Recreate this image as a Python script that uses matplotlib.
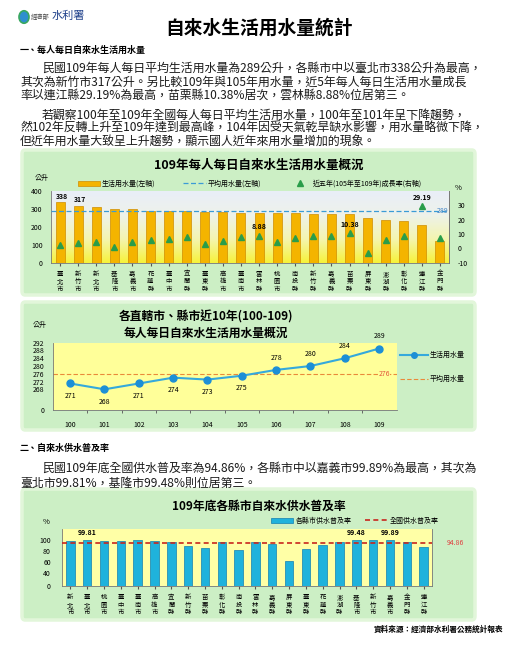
import matplotlib
matplotlib.use('Agg')
import matplotlib.pyplot as plt
from matplotlib.patches import FancyBboxPatch, Rectangle, Circle
from matplotlib.lines import Line2D
from matplotlib.colors import LinearSegmentedColormap
import numpy as np

plt.rcParams['font.family'] = ['Noto Sans CJK TC', 'DejaVu Sans']
plt.rcParams['axes.unicode_minus'] = False

W, H = 519, 647

# 109年每人每日生活用水量 (公升) 與近五年成長率 (%)
usage_cities = ['臺北市', '新竹市', '新北市', '基隆市', '嘉義市', '花蓮縣', '臺中市', '宜蘭縣',
                '臺東縣', '高雄市', '臺南市', '雲林縣', '桃園市', '南投縣', '新竹縣', '嘉義縣',
                '苗栗縣', '屏東縣', '澎湖縣', '彰化縣', '連江縣', '金門縣']
usage_2020 = [338, 317, 310, 298, 297, 290, 290, 285, 282, 280, 278, 277,
              276, 275, 272, 270, 268, 248, 240, 230, 212, 118]
growth_5yr = [2.3, 3.4, 4.3, 0.6, 4.1, 5.5, 6.2, 7.6, 2.7, 5.0, 7.6, 8.88,
              4.6, 6.9, 8.5, 8.5, 10.38, -3.5, 5.5, 8.3, 29.19, 6.9]
usage_avg = 289

# 100-109年 全國每人每日生活用水量
years = [100, 101, 102, 103, 104, 105, 106, 107, 108, 109]
yearly_usage = [271, 268, 271, 274, 273, 275, 278, 280, 284, 289]
yearly_avg = 276
yearly_ticks = [268, 272, 276, 280, 284, 288, 292]

# 109年底各縣市供水普及率 (%)
supply_cities = ['新北市', '臺北市', '桃園市', '臺中市', '臺南市', '高雄市', '宜蘭縣', '新竹縣',
                 '苗栗縣', '彰化縣', '南投縣', '雲林縣', '嘉義縣', '屏東縣', '臺東縣', '花蓮縣',
                 '澎湖縣', '基隆市', '新竹市', '嘉義市', '金門縣', '連江縣']
supply_rate = [97.3, 99.81, 97.2, 96.9, 99.5, 97.9, 96.0, 88.8, 85.2, 95.6, 81.5, 95.4,
               92.6, 60.9, 84.0, 90.0, 95.2, 99.48, 99.5, 99.89, 95.3, 86.4]
supply_avg = 94.86
supply_ticks = [40, 60, 80, 100]


def box(x0, y0, x1, y1):
    """pixel box (top-left origin) -> figure fraction rect"""
    return [x0 / W, 1 - y1 / H, (x1 - x0) / W, (y1 - y0) / H]


def put(x, y, s, **kw):
    kw.setdefault('va', 'center')
    fig.text(x / W, 1 - y / H, s, **kw)


def vertical(names):
    return ['\n'.join(n) for n in names]


fig = plt.figure(figsize=(W / 100, H / 100), dpi=100)
fig.patch.set_facecolor('white')

# logo + title
fig.patches.append(Circle((24 / W, 1 - 17 / H), 5 / W, transform=fig.transFigure,
                          fc='#2f8fcf', ec='#3aa860', lw=1.2))
put(31, 17, '經濟部', fontsize=4.5, color='#444444')
put(52, 16, '水利署', fontsize=8, color='#1d3f8a', style='italic')
put(259, 28, '自來水生活用水量統計', fontsize=13.5, fontweight='bold', ha='center')

# section 1
put(20, 50, '一、每人每日自來水生活用水量', fontsize=6.5, fontweight='bold')
para1 = ['民國109年每人每日平均生活用水量為289公升，各縣市中以臺北市338公升為最高，',
         '其次為新竹市317公升。另比較109年與105年用水量，近5年每人每日生活用水量成長',
         '率以連江縣29.19%為最高，苗栗縣10.38%居次，雲林縣8.88%位居第三。']
para2 = ['若觀察100年至109年全國每人每日平均生活用水量，100年至101年呈下降趨勢，',
         '然102年反轉上升至109年達到最高峰，104年因受天氣乾旱缺水影響，用水量略微下降，',
         '但近年用水量大致呈上升趨勢，顯示國人近年來用水量增加的現象。']
body = dict(fontsize=8.6, color='#1a1a1a')
for i, (line, y) in enumerate(zip(para1, [68, 82, 95])):
    put(42 if i == 0 else 20, y, line, **body)
for i, (line, y) in enumerate(zip(para2, [115, 128, 142])):
    put(42 if i == 0 else 20, y, line, **body)

# section 2
put(20, 448, '二、自來水供水普及率', fontsize=6.5, fontweight='bold')
para3 = ['民國109年底全國供水普及率為94.86%，各縣市中以嘉義市99.89%為最高，其次為',
         '臺北市99.81%，基隆市99.48%則位居第三。']
for i, (line, y) in enumerate(zip(para3, [468, 483])):
    put(42 if i == 0 else 20, y, line, **body)

# green panels
for y0, y1 in [(150, 295), (302, 430), (489, 620)]:
    fig.patches.append(FancyBboxPatch((22 / W, 1 - y1 / H), 453 / W, (y1 - y0) / H,
                                      boxstyle='round,pad=0,rounding_size=0.006',
                                      transform=fig.transFigure, fc='#ccefc5',
                                      ec='#e2f6da', lw=2.5, zorder=-10))

# ---------- chart 1 ----------
x1 = np.arange(len(usage_cities))
ax1 = fig.add_axes(box(51, 190.7, 449, 262.7))
ax1.patch.set_alpha(0)
grad = LinearSegmentedColormap.from_list('g', ['#e9eef8', '#eef2ea', '#f4f5b0', '#f7f23a'])
ax1.imshow(np.linspace(0, 1, 200).reshape(-1, 1), extent=[-0.5, 21.5, 0, 400],
           aspect='auto', cmap=grad, zorder=0)
ax1.bar(x1, usage_2020, width=0.5, color='#f4b400', edgecolor='#cf8d00', lw=0.5, zorder=2)
ax1.axhline(usage_avg, color='#3b9bd6', ls=(0, (4, 2)), lw=0.9, zorder=3)
ax1.set_xlim(-0.5, 21.5)
ax1.set_ylim(0, 400)
ax1.set_yticks([0, 100, 200, 300, 400])
ax1.tick_params(axis='y', labelsize=5, length=0, pad=6)
ax1.set_xticks(x1)
ax1.set_xticklabels(vertical(usage_cities), fontsize=4.6, linespacing=0.95)
ax1.tick_params(axis='x', length=2, pad=3, color='#555555')
ax1.spines['top'].set_visible(False)
for s in ['left', 'right', 'bottom']:
    ax1.spines[s].set_color('#777777')
    ax1.spines[s].set_linewidth(0.6)
for i in [0, 1]:
    ax1.text(x1[i] - 0.25, usage_2020[i] + 12, str(usage_2020[i]), fontsize=5,
             fontweight='bold', ha='left', va='bottom', zorder=4)
ax1.text(21.45, usage_avg, str(usage_avg), fontsize=5, color='#3b7fc4', ha='right',
         va='center', zorder=4)

ax1r = ax1.twinx()
ax1r.plot(x1, growth_5yr, '^', color='#2a9d4a', ms=4.5, zorder=5)
ax1r.set_ylim(-10, 40)
ax1r.set_yticks([-10, 0, 10, 20, 30])
ax1r.tick_params(axis='y', labelsize=5, length=0, pad=6)
for s in ['top', 'left', 'bottom']:
    ax1r.spines[s].set_visible(False)
ax1r.spines['right'].set_color('#777777')
ax1r.spines['right'].set_linewidth(0.6)
for i in [11, 16, 20]:
    ax1r.annotate(f'{growth_5yr[i]:.2f}', (x1[i], growth_5yr[i]), xytext=(0, 4),
                  textcoords='offset points', fontsize=5, fontweight='bold',
                  ha='center', va='bottom')

put(259, 165, '109年每人每日自來水生活用水量概況', fontsize=9, fontweight='bold', ha='center')
put(35, 178, '公升', fontsize=5)
put(455, 188, '%', fontsize=5.5)
h1 = [Rectangle((0, 0), 1, 1, fc='#f4b400', ec='#cf8d00', lw=0.5),
      Line2D([], [], color='#3b9bd6', ls=(0, (4, 2)), lw=0.9),
      Line2D([], [], ls='', marker='^', color='#2a9d4a', ms=4)]
fig.legend(h1, ['生活用水量(左軸)', '平均用水量(左軸)', '近五年(105年至109年)成長率(右軸)'],
           loc='center', bbox_to_anchor=(250 / W, 1 - 184 / H), ncol=3, frameon=False,
           fontsize=5, handlelength=3.2, handleheight=0.9, columnspacing=4, handletextpad=0.3)

# ---------- chart 2 ----------
ax2 = fig.add_axes(box(53, 342.7, 397, 409.7), facecolor='#ffff99')
ax2.plot(years, yearly_usage, color='#35a9dc', lw=1.5, marker='o', ms=5,
         mfc='#1d8fd6', mec='#1d8fd6', zorder=3)
ax2.axhline(yearly_avg, color='#e98a3a', ls=(0, (4, 2)), lw=0.8, zorder=2)
ax2.set_xlim(99.5, 109.52)
ax2.set_ylim(257.5, 292)
ax2.set_yticks([257.5] + yearly_ticks)
ax2.set_yticklabels(['0'] + [str(t) for t in yearly_ticks])
ax2.set_xticks(years)
ax2.set_xticks([y + 0.5 for y in years[:-1]], minor=True)
ax2.tick_params(axis='both', labelsize=5, length=0)
ax2.tick_params(axis='x', which='minor', length=2, color='#555555')
ax2.tick_params(axis='x', pad=8)
ax2.tick_params(axis='y', pad=6)
for s in ['top', 'right']:
    ax2.spines[s].set_visible(False)
for s in ['left', 'bottom']:
    ax2.spines[s].set_color('#777777')
    ax2.spines[s].set_linewidth(0.6)
for yr, v in zip(years, yearly_usage):
    below = yr <= 105
    ax2.annotate(str(v), (yr, v), xytext=(0, -6 if below else 6), textcoords='offset points',
                 fontsize=5, ha='center', va='top' if below else 'bottom')
ax2.text(109.15, yearly_avg, str(yearly_avg), fontsize=5, color='#e2553a', ha='center',
         va='center', bbox=dict(fc='#ffff99', ec='none', pad=0.3))
h2 = [Line2D([], [], color='#35a9dc', lw=1.5, marker='o', ms=4, mfc='#1d8fd6', mec='#1d8fd6'),
      Line2D([], [], color='#e98a3a', ls=(0, (4, 2)), lw=0.8)]
fig.legend(h2, ['生活用水量', '平均用水量'], loc='upper left',
           bbox_to_anchor=(394 / W, 1 - 345 / H), frameon=False, fontsize=5,
           handlelength=4, labelspacing=2.3, handletextpad=0.3)
put(206, 317, '各直轄市、縣市近10年(100-109)', fontsize=8.5, fontweight='bold', ha='center')
put(206, 333, '每人每日自來水生活用水量概況', fontsize=8.5, fontweight='bold', ha='center')
put(33, 325, '公升', fontsize=5)

# ---------- chart 3 ----------
x3 = np.arange(len(supply_cities))
ax3 = fig.add_axes(box(62, 529, 432, 586), facecolor='#ffffa6')
ax3.bar(x3, supply_rate, width=0.5, color='#1fb2dc', edgecolor='#137fb0', lw=0.5, zorder=2)
ax3.axhline(supply_avg, color='#c8261e', ls=(0, (3, 2)), lw=1.2, zorder=3)
ax3.set_xlim(-0.5, 21.5)
ax3.set_ylim(16.4, 119.4)
ax3.set_yticks([16.4] + supply_ticks)
ax3.set_yticklabels(['0'] + [str(t) for t in supply_ticks])
ax3.tick_params(axis='y', labelsize=5, length=0, pad=8)
ax3.set_xticks(x3)
ax3.set_xticklabels(vertical(supply_cities), fontsize=4.6, linespacing=0.95)
ax3.tick_params(axis='x', length=2, pad=3, color='#555555')
ax3.spines['top'].set_visible(False)
for s in ['left', 'right', 'bottom']:
    ax3.spines[s].set_color('#777777')
    ax3.spines[s].set_linewidth(0.6)
for i in [1, 17, 19]:
    ax3.text(x3[i], 106, f'{supply_rate[i]:.2f}', fontsize=5, fontweight='bold',
             ha='center', va='bottom', zorder=4)
put(447, 543, f'{supply_avg:.2f}', fontsize=5, color='#e04040')
put(259, 506, '109年底各縣市自來水供水普及率', fontsize=8.5, fontweight='bold', ha='center')
put(43, 522, '%', fontsize=5.5)
h3 = [Rectangle((0, 0), 1, 1, fc='#1fb2dc', ec='#137fb0', lw=0.5),
      Line2D([], [], color='#c8261e', ls=(0, (3, 2)), lw=1.2)]
fig.legend(h3, ['各縣市供水普及率', '全國供水普及率'], loc='center',
           bbox_to_anchor=(355 / W, 1 - 521 / H), ncol=2, frameon=False, fontsize=5,
           handlelength=3.2, handleheight=0.9, columnspacing=2, handletextpad=0.3)

put(503, 629, '資料來源：經濟部水利署公務統計報表', fontsize=5.5, fontweight='bold', ha='right')

fig.savefig('out.png', dpi=100)
